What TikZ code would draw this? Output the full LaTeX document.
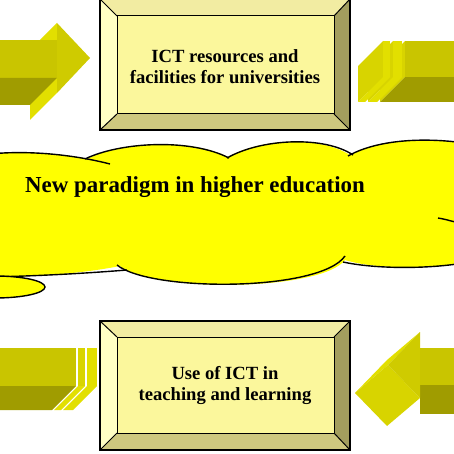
\documentclass[tikz,border=0pt]{standalone}
\usepackage{fontspec}
\setmainfont{Liberation Serif}
\definecolor{shaft}{HTML}{C9C500}
\definecolor{shaftdk}{HTML}{A09C00}
\definecolor{brighta}{HTML}{E2DF00}
\definecolor{brightb}{HTML}{D8D400}
\definecolor{headf}{HTML}{CFCB00}
\definecolor{cloudy}{HTML}{FFFF00}
\definecolor{bvtop}{HTML}{F2ECA2}
\definecolor{bvleft}{HTML}{FFFFC4}
\definecolor{bvright}{HTML}{A39E5E}
\definecolor{bvbot}{HTML}{CEC87F}
\definecolor{bvface}{HTML}{FBF79C}
\begin{document}
\begin{tikzpicture}[x=1pt,y=-1pt,
  boxline/.style={draw=black, line width=1.4pt, line join=miter},
  bevline/.style={draw=black, line width=1pt},
  cloudline/.style={draw=black, line width=1.4pt},
  boxtext/.style={font=\bfseries\fontsize{18.6}{20.5}\selectfont, align=center, inner sep=0pt, text=black},
  cloudtext/.style={font=\bfseries\fontsize{22.9}{26}\selectfont, inner sep=0pt, anchor=base west, text=black}]
\useasboundingbox (0,0) rectangle (454,454);
\clip (0,0) rectangle (454,454);

% ---------- top-left arrow (pointing right) ----------
\fill[brighta] (57,23) -- (57,93) -- (30,120) -- (30,50) -- cycle;
\fill[shaft] (-5,40) rectangle (57,78);
\fill[shaftdk] (-5,78) -- (57,78) -- (30,105) -- (-5,105) -- cycle;
\fill[headf] (57,23) -- (90,58) -- (57,93) -- cycle;

% ---------- top-right striped arrow (pointing left) ----------
\fill[brightb] (405,41) -- (405,77) -- (380,102) -- (380,66) -- cycle;
\fill[shaftdk] (405,77) -- (460,77) -- (460,102) -- (380,102) -- cycle;
\fill[brightb] (393,41) -- (393,77) -- (368,102) -- (368,66) -- cycle;
\fill[brighta] (393,77) -- (402,77) -- (377,102) -- (368,102) -- cycle;
\fill[brightb] (383,41) -- (383,77) -- (358,102) -- (358,66) -- cycle;
\fill[brighta] (383,77) -- (390,77) -- (365,102) -- (358,102) -- cycle;
\fill[shaft] (405,41) rectangle (460,77);
\fill[brighta] (393,41) rectangle (402,77);
\fill[brighta] (383,41) rectangle (390,77);

% ---------- bottom-left striped arrow (pointing right) ----------
\fill[brighta] (87,386) -- (97,386) -- (73,410) -- (63,410) -- cycle;
\fill[brighta] (78,386) -- (85,386) -- (61,410) -- (54,410) -- cycle;
\fill[brighta] (87,348) rectangle (97,386);
\fill[brightb] (78,348) rectangle (85,386);
\fill[shaft] (-5,348) rectangle (76,386);
\fill[shaftdk] (-5,386) -- (76,386) -- (52,410) -- (-5,410) -- cycle;

% ---------- bottom-right arrow (pointing left) ----------
\fill[shaftdk] (420,385) rectangle (460,414);
\fill[shaft] (420,348) rectangle (460,385);
\fill[brighta] (420,332) -- (388,365) -- (355,393) -- (387,360) -- cycle;
\fill[brightb] (388,365) -- (420,398) -- (387,426) -- (355,393) -- cycle;
\fill[headf] (420,332) -- (388,365) -- (420,398) -- cycle;

% ---------- cloud ----------
\fill[cloudy] (-10,154) .. controls (30,150) and (70,155) .. (87,159)
  .. controls (120,142) and (190,138) .. (228,157)
  .. controls (262,138) and (320,136) .. (350,155)
  .. controls (380,138) and (430,138) .. (464,143)
  -- (464,263)
  .. controls (420,270) and (370,268) .. (345,260)
  .. controls (320,292) and (150,292) .. (120,266)
  .. controls (80,274) and (30,277) .. (-10,277) -- cycle;
\draw[cloudline] (-10,154) .. controls (30,150) and (75,155) .. (110,164);
\draw[cloudline] (85,159) .. controls (120,142) and (190,138) .. (229,158);
\draw[cloudline] (227,158) .. controls (262,138) and (325,136) .. (353,155);
\draw[cloudline] (348,156) .. controls (380,138) and (430,138) .. (464,143);
\draw[cloudline] (438,218) .. controls (445,219) and (450,221) .. (464,224);
\draw[cloudline] (464,263) .. controls (420,270) and (370,268) .. (343,262);
\draw[cloudline] (345,256) .. controls (320,292) and (150,292) .. (117,265);
\draw[cloudline] (127,270) .. controls (90,273) and (40,276) .. (-10,277);
\draw[cloudline, fill=cloudy] (-5,287) ellipse [x radius=50, y radius=11];
\node[cloudtext] (para) at (25,193) {New paradigm in higher education};

% ---------- top bevel box ----------
\fill[bvtop] (100,-1) -- (350,-1) -- (334,16) -- (117,16) -- cycle;
\fill[bvleft] (100,-1) -- (117,16) -- (117,114) -- (100,130) -- cycle;
\fill[bvright] (350,-1) -- (350,130) -- (334,114) -- (334,16) -- cycle;
\fill[bvbot] (100,130) -- (117,114) -- (334,114) -- (350,130) -- cycle;
\fill[bvface] (117,16) rectangle (334,114);
\draw[bevline] (100,-1) -- (117,16) (350,-1) -- (334,16) (100,130) -- (117,114) (350,130) -- (334,114);
\draw[bevline] (117,16) rectangle (334,114);
\draw[boxline] (100,-1) rectangle (350,130);
\node[boxtext] (ict) at (225,66.7) {ICT resources and\\facilities for universities};

% ---------- bottom bevel box ----------
\fill[bvtop] (100,321) -- (350,321) -- (334,337) -- (117,337) -- cycle;
\fill[bvleft] (100,321) -- (117,337) -- (117,433) -- (100,450) -- cycle;
\fill[bvright] (350,321) -- (350,450) -- (334,433) -- (334,337) -- cycle;
\fill[bvbot] (100,450) -- (117,433) -- (334,433) -- (350,450) -- cycle;
\fill[bvface] (117,337) rectangle (334,433);
\draw[bevline] (100,321) -- (117,337) (350,321) -- (334,337) (100,450) -- (117,433) (350,450) -- (334,433);
\draw[bevline] (117,337) rectangle (334,433);
\draw[boxline] (100,321) rectangle (350,450);
\node[boxtext] (use) at (225,385.7) {Use of ICT in\\teaching and learning};
\end{tikzpicture}
\end{document}
